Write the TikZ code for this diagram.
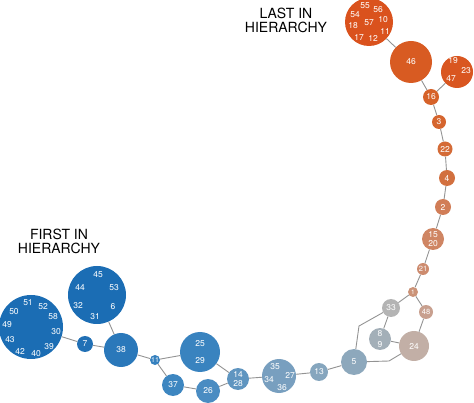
\documentclass[tikz,border=0pt]{standalone}
\usepackage{fontspec}
\setmainfont{TeX Gyre Heros}
\usepackage{tikz}
\usetikzlibrary{calc,positioning}
\definecolor{cA}{HTML}{1B6DB4}
\definecolor{c7}{HTML}{2170B5}
\definecolor{c38}{HTML}{2A78BA}
\definecolor{c11}{HTML}{3580BE}
\definecolor{c25}{HTML}{3983BF}
\definecolor{c37}{HTML}{3D86C0}
\definecolor{c26}{HTML}{4A8CC2}
\definecolor{c14}{HTML}{5F95C0}
\definecolor{c34}{HTML}{789FBF}
\definecolor{c13}{HTML}{86A6BE}
\definecolor{c5}{HTML}{8DA8BC}
\definecolor{c8}{HTML}{A3AFB8}
\definecolor{c33}{HTML}{B4B4B4}
\definecolor{c24}{HTML}{C2AFA6}
\definecolor{c48}{HTML}{C8A08F}
\definecolor{c1}{HTML}{CB9378}
\definecolor{c21}{HTML}{CD8B6E}
\definecolor{c15}{HTML}{CF8563}
\definecolor{c2}{HTML}{D17D57}
\definecolor{c4}{HTML}{D2703F}
\definecolor{c22}{HTML}{D46B37}
\definecolor{c3}{HTML}{D5652E}
\definecolor{c16}{HTML}{D66229}
\definecolor{c46}{HTML}{D85B22}
\definecolor{c19}{HTML}{D95620}
\definecolor{cT}{HTML}{DA521D}
\definecolor{edgegray}{HTML}{939393}
\tikzset{
  nd/.style={circle,draw=none,inner sep=0pt,text=white,font=\fontsize{8.5}{9}\selectfont,align=center},
  num/.style={text=white,inner sep=0pt,font=\fontsize{8.5}{9}\selectfont},
  link/.style={draw=edgegray,line width=0.9pt},
  title/.style={align=center,font=\fontsize{14}{14}\selectfont}
}
\begin{document}
\begin{tikzpicture}[x=1pt,y=-1pt]
\useasboundingbox (0,0) rectangle (474,403);
\node[nd,minimum size=64,fill=cA] (A) at (31,327) {};
\node[nd,minimum size=58,fill=cA] (B) at (97,295) {};
\node[nd,minimum size=16,fill=c7] (n7) at (85,344) {7};
\node[nd,minimum size=34,fill=c38] (n38) at (121,350) {38};
\node[nd,minimum size=10,fill=c11,font=\fontsize{7}{7}\selectfont] (n11) at (155,360) {11};
\node[nd,minimum size=40,fill=c25,font=\fontsize{8.5}{17}\selectfont] (n25) at (200,352) {25\\29};
\node[nd,minimum size=22,fill=c37] (n37) at (173,385) {37};
\node[nd,minimum size=24,fill=c26] (n26) at (208,391) {26};
\node[nd,minimum size=22,fill=c14,font=\fontsize{8.5}{9.5}\selectfont] (n14) at (238,379) {14\\28};
\node[nd,minimum size=34,fill=c34] (K) at (279,376) {};
\node[nd,minimum size=18,fill=c13] (n13) at (319,372) {13};
\node[nd,minimum size=26,fill=c5] (n5) at (354,362) {5};
\node[nd,minimum size=22,fill=c8,font=\fontsize{8.5}{10.5}\selectfont] (n8) at (380,339) {8\\9};
\node[nd,minimum size=30,fill=c24] (n24) at (414,346) {24};
\node[nd,minimum size=18,fill=c33] (n33) at (391,308) {33};
\node[nd,minimum size=14,fill=c48,font=\fontsize{7.5}{8}\selectfont] (n48) at (426,312) {48};
\node[nd,minimum size=10,fill=c1,font=\fontsize{6.5}{7}\selectfont] (n1) at (413,292) {1};
\node[nd,minimum size=12,fill=c21,font=\fontsize{7.5}{8}\selectfont] (n21) at (423,269) {21};
\node[nd,minimum size=22,fill=c15,font=\fontsize{8.5}{9}\selectfont] (n15) at (433,239) {15\\20};
\node[nd,minimum size=16,fill=c2] (n2) at (443,207) {2};
\node[nd,minimum size=16,fill=c4] (n4) at (447,178) {4};
\node[nd,minimum size=15,fill=c22] (n22) at (445,149) {22};
\node[nd,minimum size=14,fill=c3] (n3) at (439,122) {3};
\node[nd,minimum size=16,fill=c16] (n16) at (431,97) {16};
\node[nd,minimum size=42,fill=c46] (n46) at (411,62) {46};
\node[nd,minimum size=32,fill=c19] (R) at (457,72) {};
\node[nd,minimum size=48,fill=cT] (T) at (369,22) {};
\foreach \n/\dx/\dy in {51/-3/-24,52/12/-20,50/-17/-15,58/22/-10,49/-24/-2,30/25/5,43/-21/13,39/18/20,42/-11/24,40/5/27}
  \node[num] (A-\n) at ($(A)+(\dx,\dy)$) {\n};
\foreach \n/\dx/\dy in {45/1/-20,44/-17/-8,53/17/-7,32/-19/11,6/16/12,31/-2/22}
  \node[num] (B-\n) at ($(B)+(\dx,\dy)$) {\n};
\foreach \n/\dx/\dy in {35/-4/-9,27/11/-1,34/-10/4,36/3/12}
  \node[num] (K-\n) at ($(K)+(\dx,\dy)$) {\n};
\foreach \n/\dx/\dy in {19/-4/-11,23/9/-1,47/-6/6}
  \node[num] (R-\n) at ($(R)+(\dx,\dy)$) {\n};
\foreach \n/\dx/\dy in {55/-4/-16,54/-14/-7,56/9/-12,10/14/-2,18/-16/4,57/0/1,11/16/9,17/-10/15,12/4/16}
  \node[num] (T-\n) at ($(T)+(\dx,\dy)$) {\n};
\coordinate (c1) at (359,326);
\coordinate (c2) at (389,361);
\draw[link] (A) -- (n7);
\draw[link] (n7) -- (n38);
\draw[link] (B) -- (n38);
\draw[link] (n38) -- (n11);
\draw[link] (n11) -- (n25);
\draw[link] (n11) -- (n37);
\draw[link] (n37) -- (n26);
\draw[link] (n26) -- (n14);
\draw[link] (n25) -- (n14);
\draw[link] (n14) -- (K);
\draw[link] (K) -- (n13);
\draw[link] (n13) -- (n5);
\draw[link] (n5) -- (c1) -- (n33);
\draw[link] (n5) -- (c2) -- (n24);
\draw[link] (n8) -- (n33);
\draw[link] (n8) -- (n24);
\draw[link] (n24) -- (n48);
\draw[link] (n48) -- (n1);
\draw[link] (n33) -- (n1);
\draw[link] (n1) -- (n21);
\draw[link] (n21) -- (n15);
\draw[link] (n15) -- (n2);
\draw[link] (n2) -- (n4);
\draw[link] (n4) -- (n22);
\draw[link] (n22) -- (n3);
\draw[link] (n3) -- (n16);
\draw[link] (n16) -- (n46);
\draw[link] (n16) -- (R);
\draw[link] (n46) -- (T);
\node[title] (last) at (286,20) {LAST IN\\HIERARCHY};
\node[title] (first) at (59,241) {FIRST IN\\HIERARCHY};
\end{tikzpicture}
\end{document}
